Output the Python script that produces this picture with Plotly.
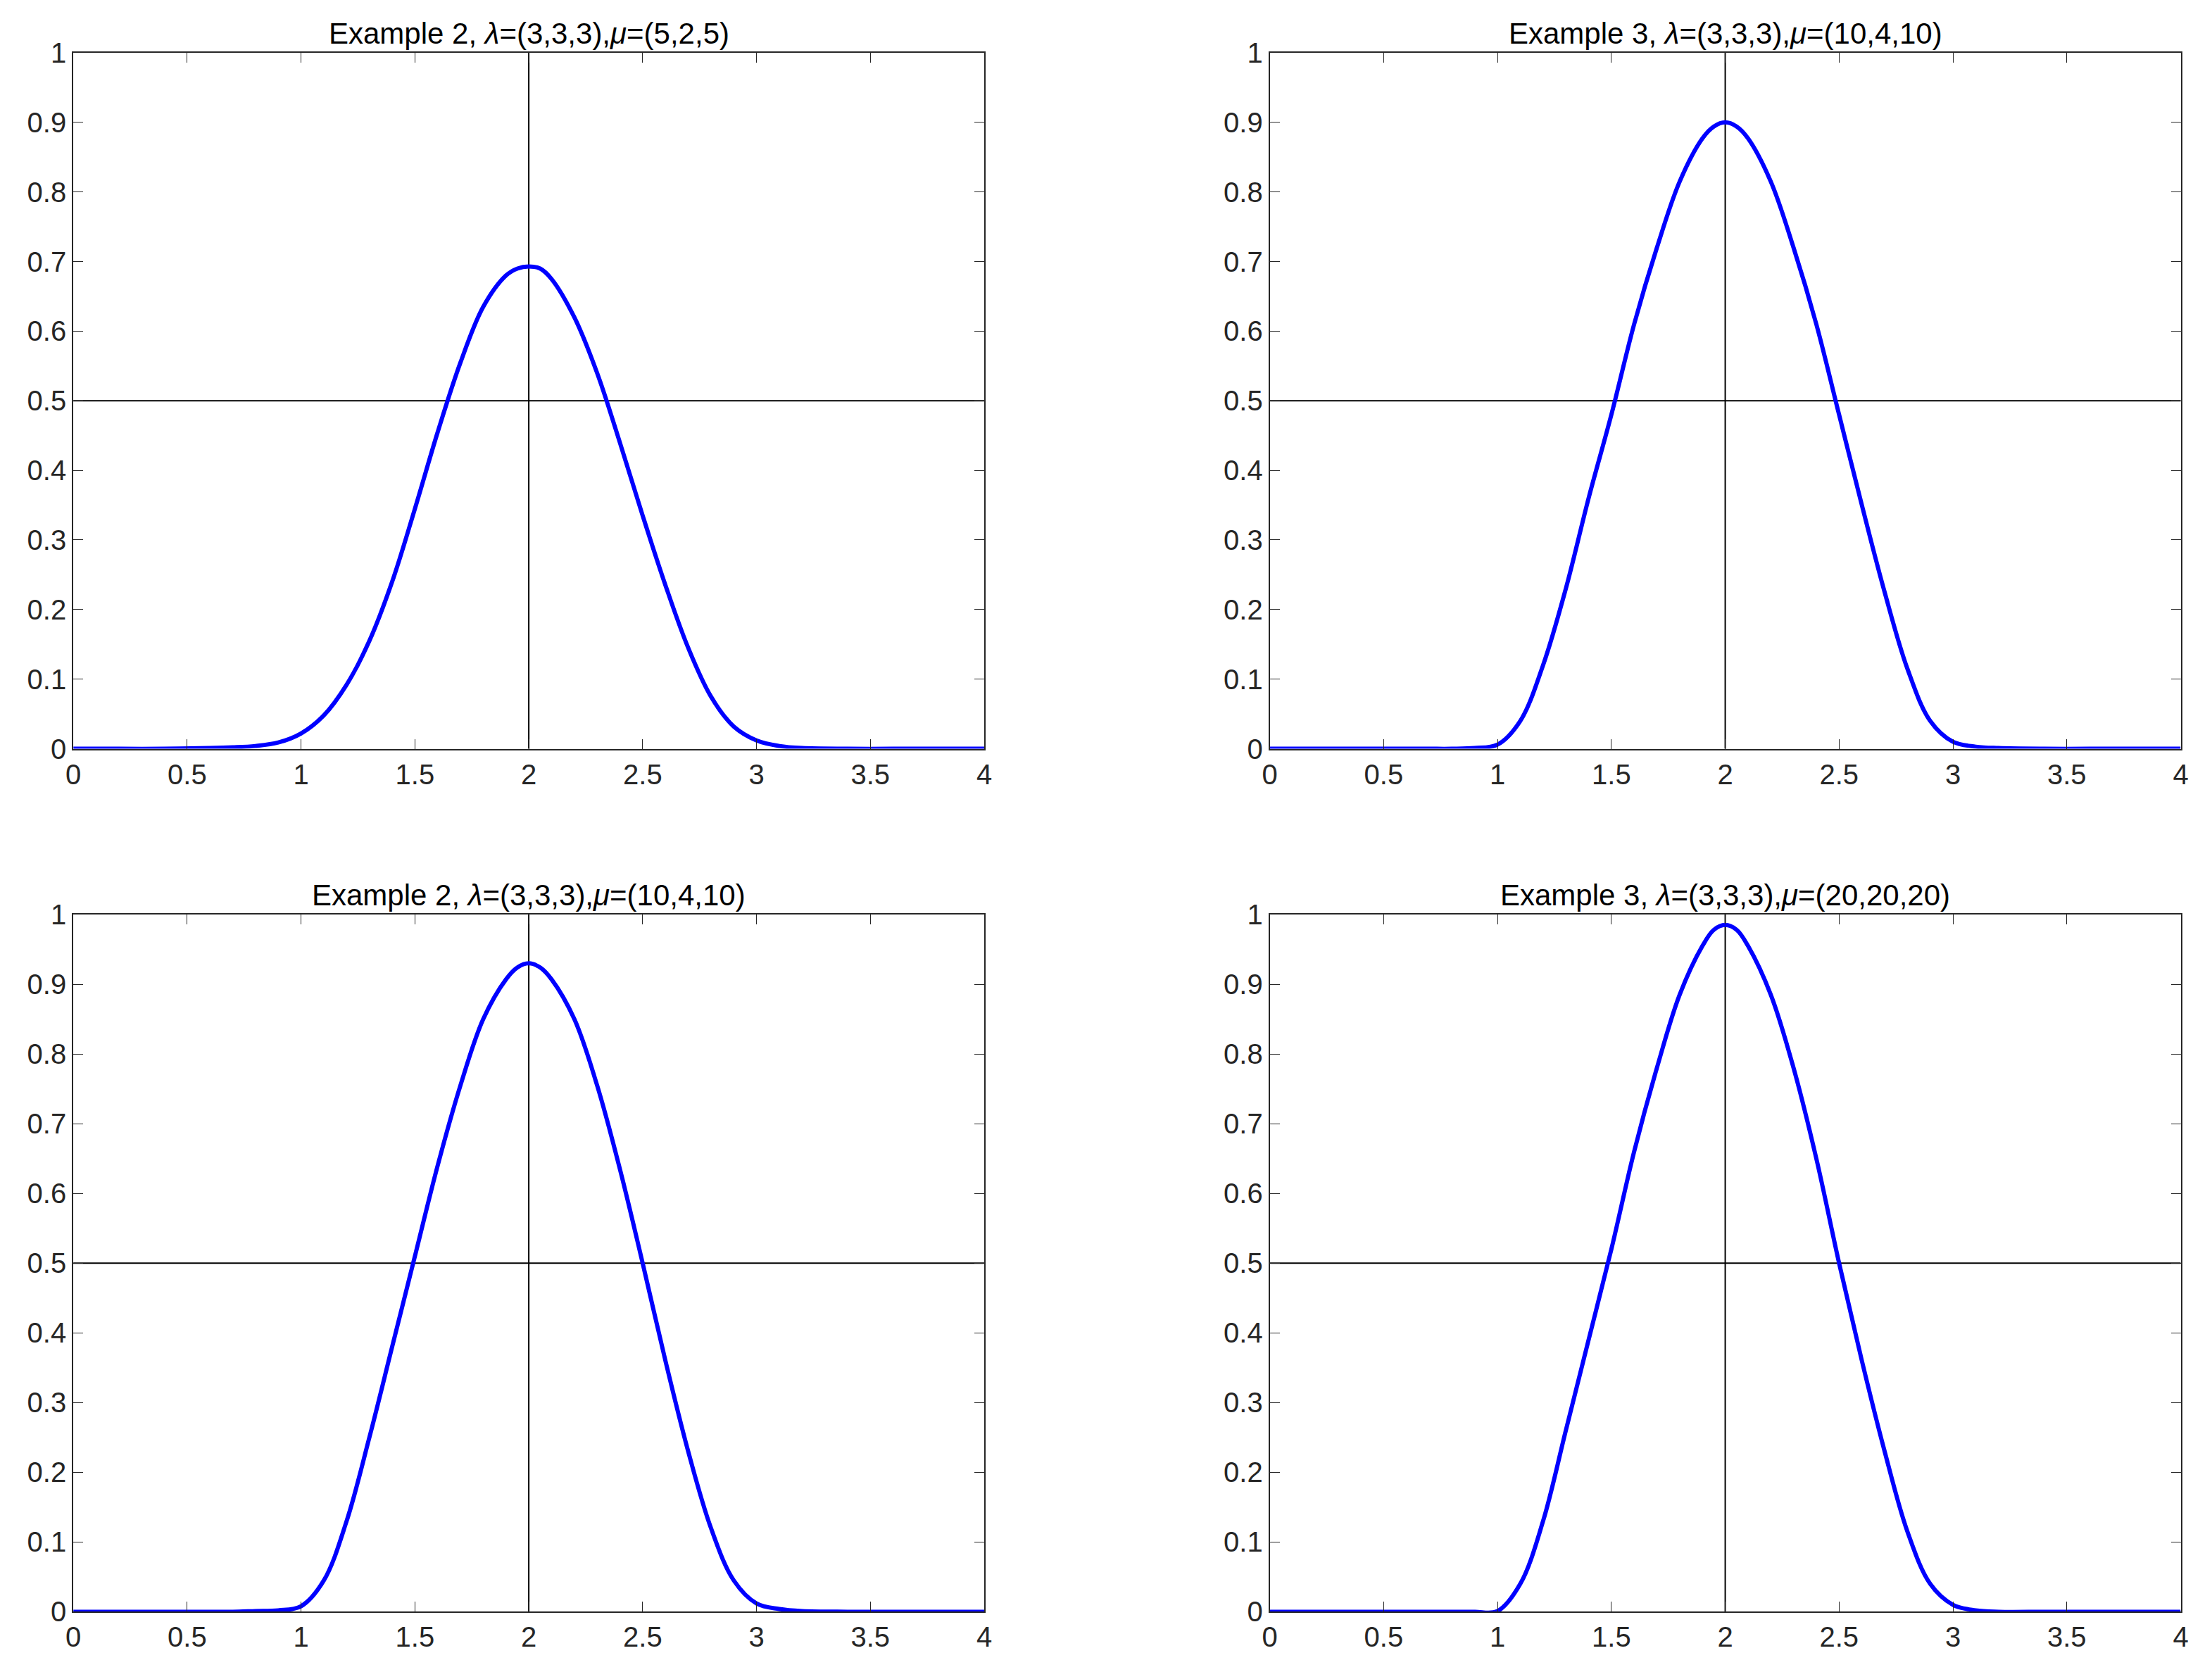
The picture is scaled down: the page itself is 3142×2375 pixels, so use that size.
import plotly.graph_objects as go

x = [0, 0.2, 0.4, 0.6, 0.7, 0.8, 0.9, 1.0, 1.1, 1.2, 1.3, 1.4, 1.5, 1.6, 1.7, 1.8, 1.9, 1.95, 2.0,
     2.05, 2.1, 2.2, 2.3, 2.4, 2.5, 2.6, 2.7, 2.8, 2.9, 3.0, 3.1, 3.2, 3.4, 3.6, 3.8, 4.0]

y_ex2_525 = [0, 0, 0, 0.001, 0.002, 0.004, 0.009, 0.022, 0.048, 0.092, 0.155, 0.24, 0.345, 0.455,
             0.555, 0.635, 0.68, 0.69, 0.693, 0.69, 0.675, 0.62, 0.54, 0.44, 0.335, 0.235, 0.145,
             0.075, 0.032, 0.012, 0.004, 0.001, 0, 0, 0, 0]
y_ex3_10410 = [0, 0, 0, 0, 0, 0, 0.001, 0.006, 0.04, 0.12, 0.23, 0.36, 0.48, 0.61, 0.72, 0.815,
               0.877, 0.894, 0.9, 0.894, 0.877, 0.815, 0.72, 0.61, 0.48, 0.35, 0.225, 0.115,
               0.04, 0.01, 0.003, 0.001, 0, 0, 0, 0]
y_ex2_10410 = [0, 0, 0, 0, 0, 0.001, 0.002, 0.008, 0.045, 0.13, 0.25, 0.38, 0.51, 0.64, 0.755,
               0.85, 0.907, 0.924, 0.93, 0.924, 0.907, 0.85, 0.755, 0.635, 0.5, 0.36, 0.23, 0.12,
               0.045, 0.012, 0.004, 0.001, 0, 0, 0, 0]
y_ex3_202020 = [0, 0, 0, 0, 0, 0, 0, 0.001, 0.04, 0.13, 0.26, 0.39, 0.52, 0.66, 0.78, 0.885,
                0.955, 0.978, 0.985, 0.978, 0.955, 0.885, 0.78, 0.65, 0.5, 0.36, 0.23, 0.115,
                0.04, 0.01, 0.002, 0, 0, 0, 0, 0]

titles = ["Example 2, <i>λ</i>=(3,3,3),<i>μ</i>=(5,2,5)",
          "Example 3, <i>λ</i>=(3,3,3),<i>μ</i>=(10,4,10)",
          "Example 2, <i>λ</i>=(3,3,3),<i>μ</i>=(10,4,10)",
          "Example 3, <i>λ</i>=(3,3,3),<i>μ</i>=(20,20,20)"]
series = [y_ex2_525, y_ex3_10410, y_ex2_10410, y_ex3_202020]
xticks = [0, 0.5, 1, 1.5, 2, 2.5, 3, 3.5, 4]
yticks = [0, 0.1, 0.2, 0.3, 0.4, 0.5, 0.6, 0.7, 0.8, 0.9, 1]

xdoms = [[0.0273, 0.4420], [0.5720, 0.9867]]
ydoms = [[0.5566, 0.9807], [0.0307, 0.4556]]

fig = go.Figure()
layout = dict(width=3142, height=2375, margin=dict(l=0, r=0, t=0, b=0),
              paper_bgcolor="white", plot_bgcolor="white", showlegend=False,
              font=dict(family="Liberation Sans, Arial", size=40, color="#262626"))
annotations = []
shapes = []
for i in range(4):
    r, c = divmod(i, 2)
    n = "" if i == 0 else str(i + 1)
    xa, ya = "x" + n, "y" + n
    fig.add_trace(go.Scatter(x=x, y=series[i], mode="lines", xaxis=xa, yaxis=ya,
                             line=dict(color="#0000ff", width=6, shape="spline", smoothing=1.0)))
    common = dict(showgrid=False, zeroline=False, showline=True, linecolor="#262626",
                  linewidth=2, mirror="ticks", ticks="inside", ticklen=14,
                  tickcolor="#262626", tickfont=dict(size=40, color="#262626"))
    layout["xaxis" + n] = dict(domain=xdoms[c], range=[0, 4], tickvals=xticks,
                               anchor=ya, **common)
    layout["yaxis" + n] = dict(domain=ydoms[r], range=[0, 1], tickvals=yticks,
                               anchor=xa, **common)
    shapes.append(dict(type="line", xref=xa, yref=ya + " domain", x0=2, x1=2, y0=0, y1=1,
                       line=dict(color="black", width=2), layer="below"))
    shapes.append(dict(type="line", xref=xa + " domain", yref=ya, x0=0, x1=1, y0=0.5, y1=0.5,
                       line=dict(color="black", width=2), layer="below"))
    annotations.append(dict(text=titles[i], xref=xa + " domain", yref=ya + " domain",
                            x=0.5, y=1, yanchor="bottom", xanchor="center", showarrow=False,
                            yshift=2, font=dict(size=42, color="black")))
layout["annotations"] = annotations
layout["shapes"] = shapes
fig.update_layout(**layout)
fig.write_html("out.html")
